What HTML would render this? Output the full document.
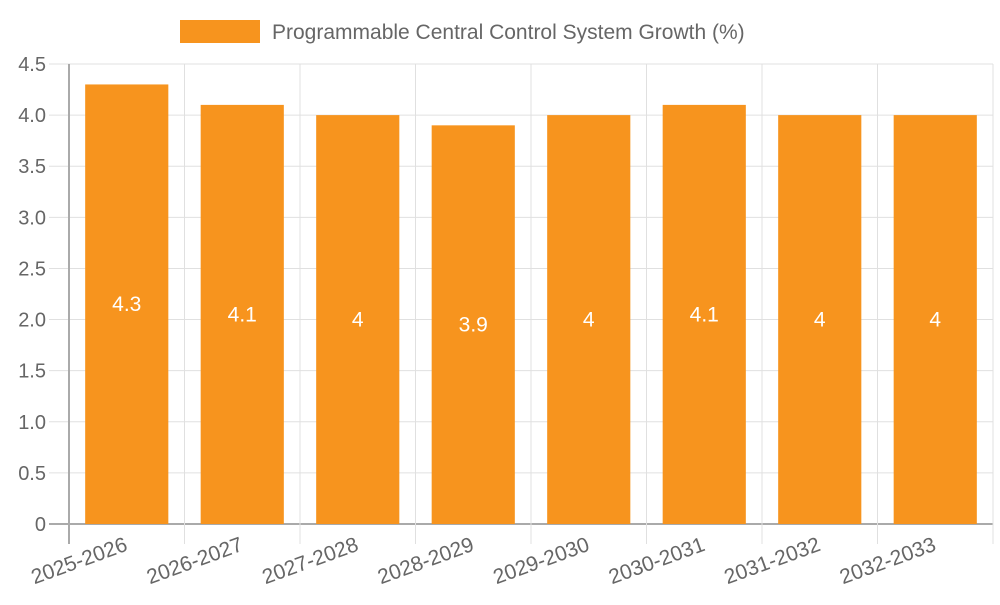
<!DOCTYPE html>
<html><head><meta charset="utf-8"><style>
body{margin:0;background:#fff;font-family:"Liberation Sans",sans-serif}
</style></head><body>
<svg id="c" width="1000" height="600" xmlns="http://www.w3.org/2000/svg" font-family="Liberation Sans, sans-serif">
<g>
<rect x="180" y="20" width="80" height="23" fill="#F7941E"/>
<text x="272" y="39" font-size="21" fill="#666">Programmable Central Control System Growth (%)</text>
</g>
</svg>
<script>
const categories=["2025-2026","2026-2027","2027-2028","2028-2029","2029-2030","2030-2031","2031-2032","2032-2033"];
const values=[4.3,4.1,4,3.9,4,4.1,4,4];
const yTicks=[0,0.5,1,1.5,2,2.5,3,3.5,4,4.5];
const yTickLabels=["0","0.5","1.0","1.5","2.0","2.5","3.0","3.5","4.0","4.5"];
const svg=document.getElementById('c');
const NS="http://www.w3.org/2000/svg";
const L=69,R=993,T=64,B=524,yMax=4.5;
const bw=(R-L)/categories.length;
const y=v=>B-(v/yMax)*(B-T);
const x=i=>L+bw*(i+0.5);
function mk(t,a,p){const e=document.createElementNS(NS,t);for(const k in a)e.setAttribute(k,a[k]);(p||svg).appendChild(e);return e;}
const grid=mk('g',{});


yTicks.forEach((v,i)=>{
  const ln=mk('line',{x1:49,x2:R,y1:y(v),y2:y(v),stroke:i==0?'#aaa':'#e0e0e0','stroke-width':i==0?2:1},grid);
  
  
  const t=mk('text',{x:46,y:y(v)+7,'text-anchor':'end','font-size':20,fill:'#666'});
  t.textContent=yTickLabels[i];
  
  
});
for(let i=0;i<=categories.length;i++){
  const gx=L+bw*i;
  const ln=mk('line',{x1:gx,x2:gx,y1:T,y2:544,stroke:i==0?'#aaa':'#e0e0e0','stroke-width':i==0?2:1},grid);
  
  
}
categories.forEach((c,i)=>{
  const w=bw*0.72;
  const r=mk('rect',{x:x(i)-w/2,y:y(values[i]),width:w,height:B-y(values[i]),fill:'#F7941E'});
  
  
  const vt=mk('text',{x:x(i),y:(y(values[i])+B)/2+7,'text-anchor':'middle','font-size':21,fill:'#fff'});
  vt.textContent=String(values[i]);
  
  
  const xt=mk('text',{x:x(i)+2,y:550,'text-anchor':'end','font-size':21,fill:'#666',transform:`rotate(-20 ${x(i)+2} 550)`});
  xt.textContent=c;
  
  
});
svg.appendChild(grid.nextSibling?svg.lastChild:svg.lastChild);
</script>
</body></html>
